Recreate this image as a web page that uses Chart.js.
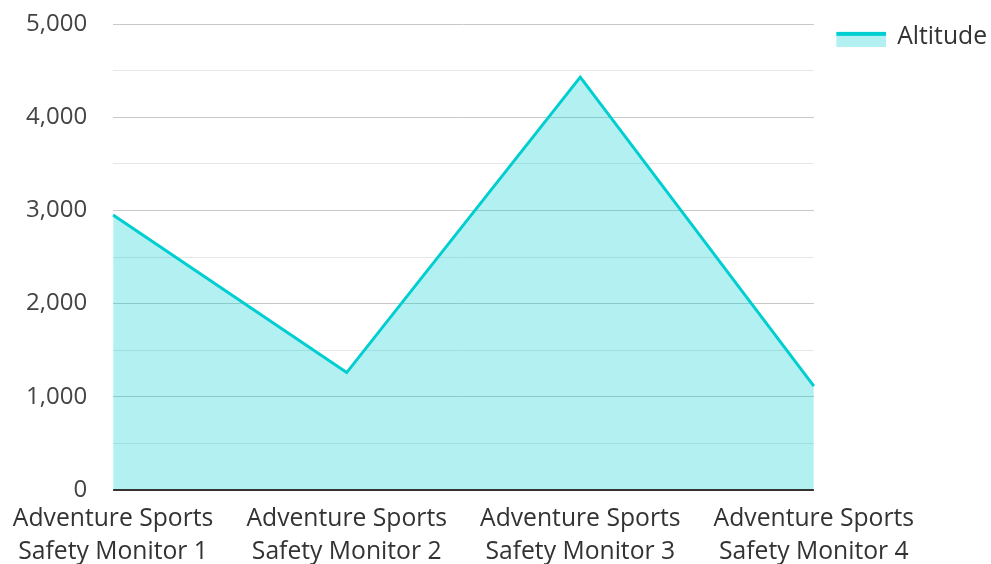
<!DOCTYPE html>
<html>
<head>
<meta charset="utf-8">
<script src="https://cdn.jsdelivr.net/npm/chart.js@4"></script>
<style>
html,body{margin:0;padding:0;background:#fff;}
#wrap{width:991px;height:564px;}
</style>
</head>
<body>
<div id="wrap"><canvas id="c" width="991" height="564"></canvas></div>
<script>
const categories = [
  ["Adventure Sports", "Safety Monitor 1"],
  ["Adventure Sports", "Safety Monitor 2"],
  ["Adventure Sports", "Safety Monitor 3"],
  ["Adventure Sports", "Safety Monitor 4"]
];
const altitude = [2950, 1260, 4430, 1115];
const seriesName = "Altitude";

const lineColor = "#00CED1";
const fillColor = "rgba(0,206,209,0.3)";

// legend swatch: transparent left margin + top margin for positioning
const sw = document.createElement('canvas');
sw.width = 64; sw.height = 19;
const sctx = sw.getContext('2d');
sctx.fillStyle = fillColor; sctx.fillRect(14,4,50,15);
sctx.fillStyle = lineColor; sctx.fillRect(14,4,50,4);

Chart.defaults.font.family = "'Open Sans', sans-serif";
Chart.defaults.font.size = 24;
Chart.defaults.color = "#444";

new Chart(document.getElementById('c'), {
  type: 'line',
  data: {
    labels: categories,
    datasets: [{
      label: seriesName,
      data: altitude,
      borderColor: lineColor,
      backgroundColor: fillColor,
      borderWidth: 3,
      fill: 'origin',
      pointRadius: 0,
      tension: 0,
      pointStyle: sw
    }]
  },
  options: {
    responsive: false,
    devicePixelRatio: 1,
    animation: false,
    layout: { padding: { top: -6, left: 0, right: -6, bottom: 0 } },
    plugins: {
      tooltip: { enabled: false },
      legend: {
        position: 'right',
        align: 'start',
        title: { display: true, text: ' ', font: { size: 10, lineHeight: 1.2 }, padding: { top: 9, bottom: 0 } },
        labels: {
          usePointStyle: true,
          pointStyleWidth: 61,
          boxHeight: 15,
          padding: 10,
          color: '#333',
          font: { size: 24.7 }
        }
      }
    },
    scales: {
      x: {
        offset: false,
        grid: { display: false, drawTicks: false },
        border: { display: false },
        ticks: { padding: 13, maxRotation: 0, autoSkip: false, color: '#333', font: { size: 24.7, lineHeight: 1.32 } },
        afterFit(scale) { scale.height = 74; scale.paddingLeft = 111; }
      },
      y: {
        min: 0, max: 5000,
        ticks: {
          stepSize: 500,
          padding: 26,
          color: '#444',
          font: { size: 24 },
          callback: v => (v % 1000 === 0) ? v.toLocaleString('en-US') : ''
        },
        afterFit(scale) { scale.paddingTop = 24; scale.paddingBottom = 0; },
        grid: {
          drawTicks: false,
          lineWidth: 1,
          color: ctx => (ctx.tick && ctx.tick.value === 0) ? 'rgba(0,0,0,0)' : ((ctx.tick && ctx.tick.value % 1000 === 0) ? '#c8c8c8' : '#e6e6e6')
        },
        border: { display: false }
      }
    }
  },
  plugins: [{
    id: 'baseline',
    afterDatasetsDraw(chart) {
      const {ctx, chartArea, scales} = chart;
      const y = scales.y.getPixelForValue(0);
      ctx.save();
      ctx.strokeStyle = '#333';
      ctx.lineWidth = 2;
      ctx.beginPath();
      ctx.moveTo(chartArea.left, y);
      ctx.lineTo(chartArea.right, y);
      ctx.stroke();
      ctx.restore();
    }
  }]
});
</script>
</body>
</html>
